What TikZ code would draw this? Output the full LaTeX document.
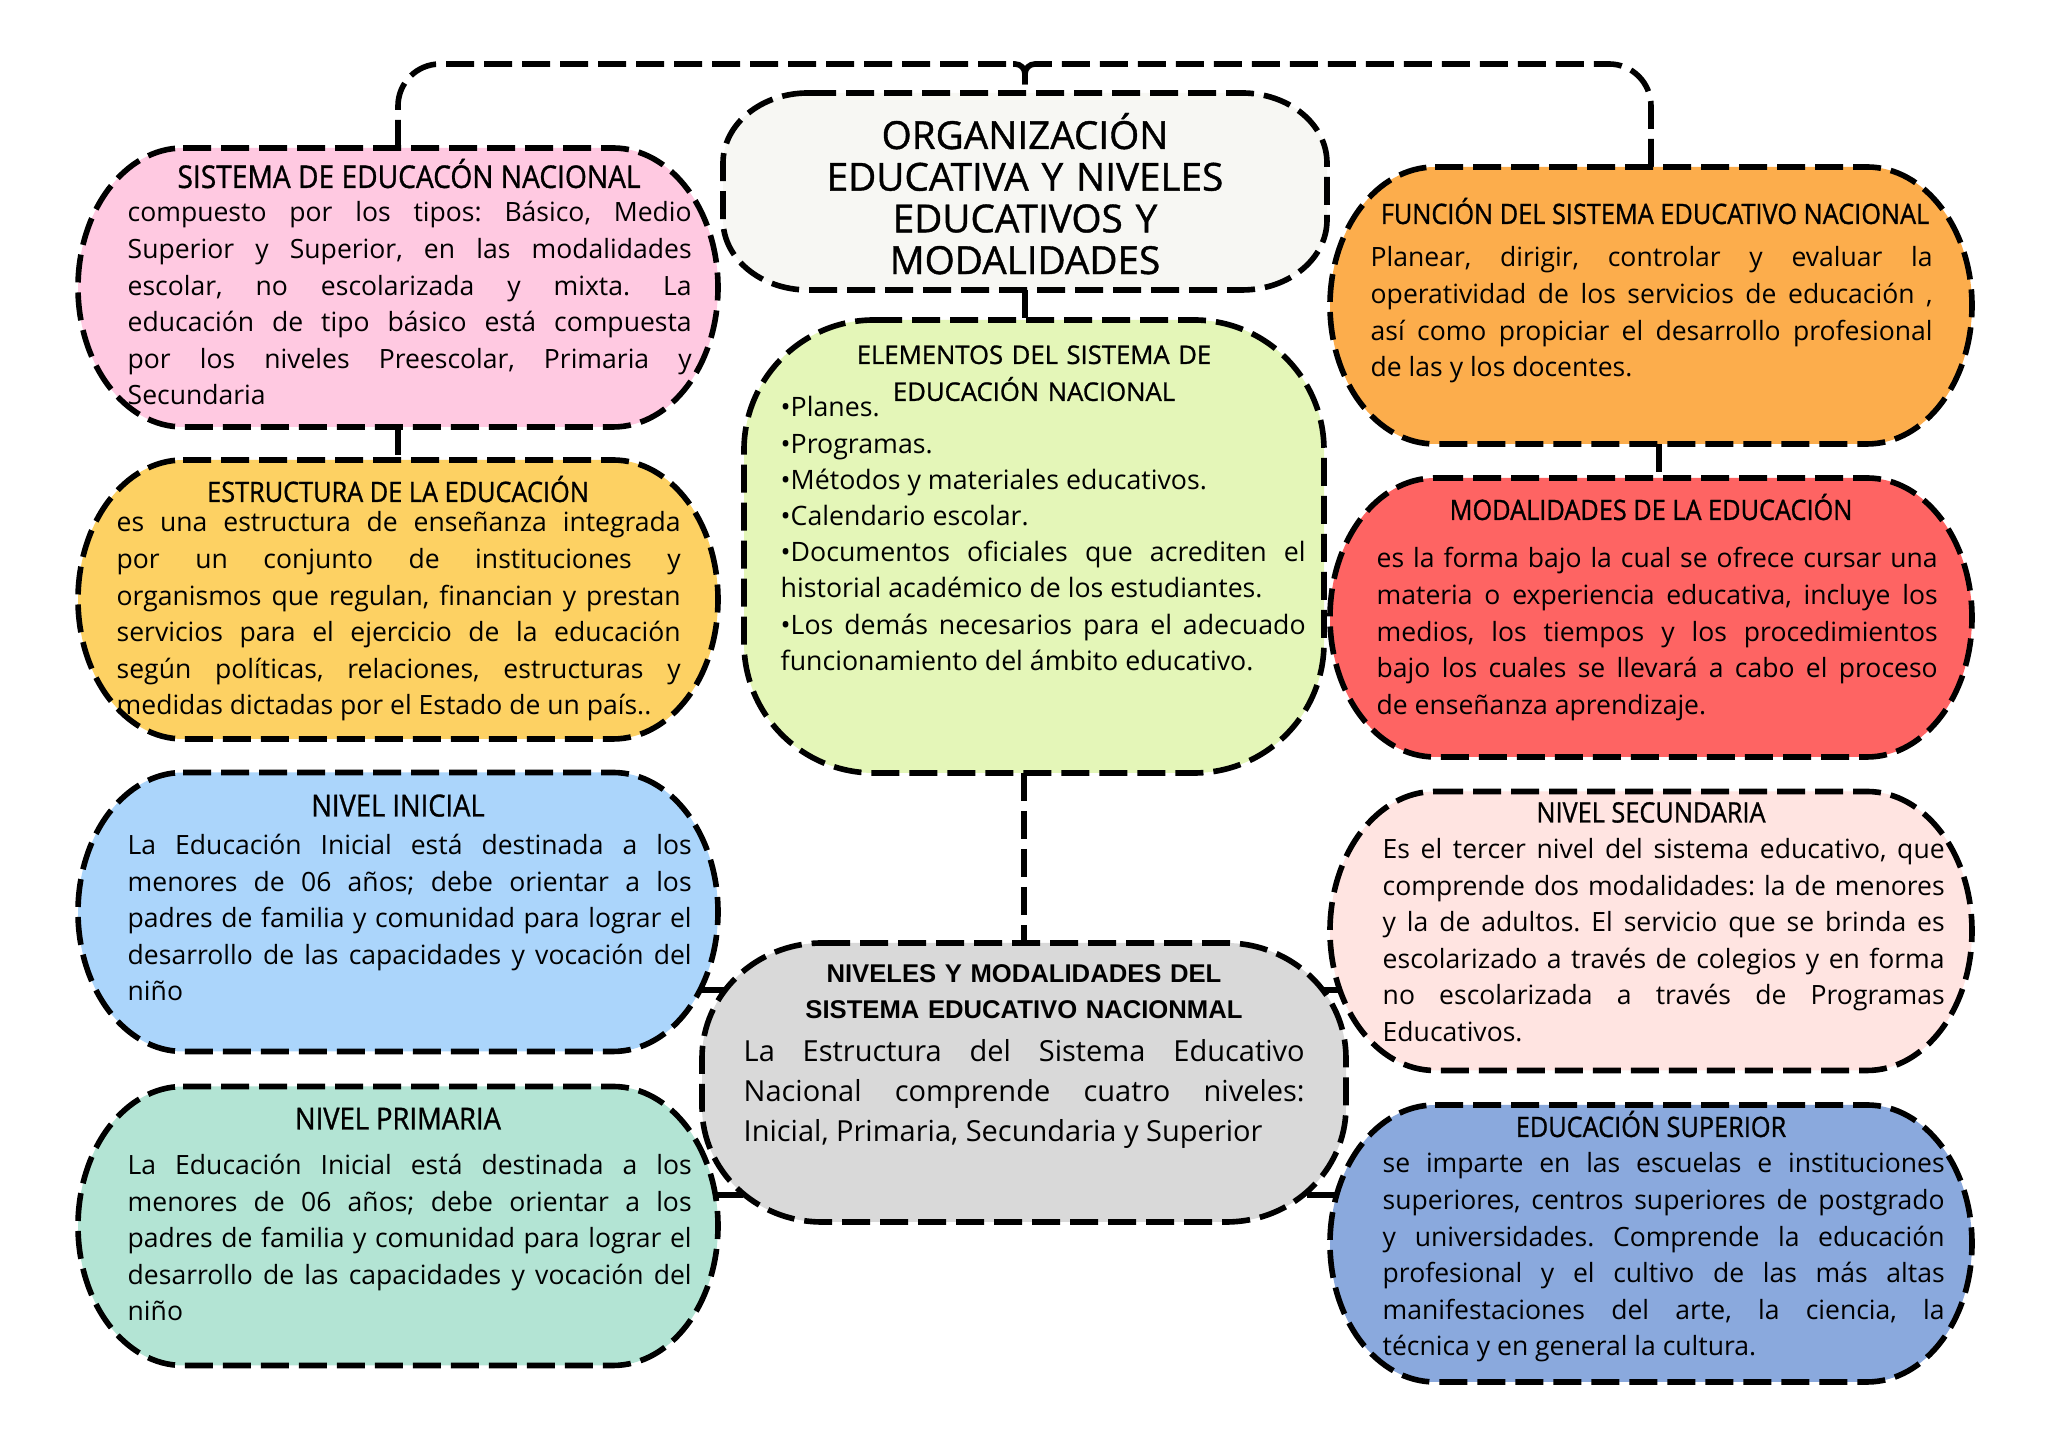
\documentclass[tikz,border=0pt]{standalone}
\usepackage{fontspec}
\setmainfont{Open Sans}
\newfontfamily\headfont[FakeStretch=0.9,FakeBold=1]{Open Sans}
\newfontfamily\titlefont[FakeBold=1]{Open Sans}
\newfontfamily\arialfont{Liberation Sans}
\usetikzlibrary{calc,backgrounds}
\frenchspacing
\tolerance=10000
\hbadness=10000
\hyphenpenalty=10000

\definecolor{titlefill}{HTML}{F7F7F3}
\definecolor{senfill}{HTML}{FFC9E1}
\definecolor{estrfill}{HTML}{FDD163}
\definecolor{inifill}{HTML}{ABD5FB}
\definecolor{prifill}{HTML}{B3E4D4}
\definecolor{elemfill}{HTML}{E4F6B8}
\definecolor{nivfill}{HTML}{D9D9D9}
\definecolor{funfill}{HTML}{FCAD4C}
\definecolor{modfill}{HTML}{FE6463}
\definecolor{secfill}{HTML}{FFE4E1}
\definecolor{supfill}{HTML}{8AA9DD}

\tikzset{
  frame/.style={inner sep=0pt, outer sep=0pt, minimum width=6.4cm, minimum height=2.79cm},
  link/.style={line width=1.6pt, dash pattern=on 0.28cm off 0.1cm},
  head/.style={inner sep=0pt, anchor=base, font=\headfont\fontsize{8}{10}\selectfont},
  body/.style={inner sep=0pt, anchor=base west, text width=5.64cm, align=justify,
    font=\fontsize{7.55}{10.41}\selectfont}
}

\newcommand{\ovalbox}[4]{%
  \path[link, draw, fill=#4] let \p1=(#1.south west), \p2=(#1.north east) in
    (\x1+#2,\y2) -- (\x2-#2,\y2)
    arc[start angle=90, end angle=0, x radius=#2, y radius=#3] -- (\x2,\y1+#3)
    arc[start angle=0, end angle=-90, x radius=#2, y radius=#3] -- (\x1+#2,\y1)
    arc[start angle=270, end angle=180, x radius=#2, y radius=#3] -- (\x1,\y2-#3)
    arc[start angle=180, end angle=90, x radius=#2, y radius=#3] -- cycle;}

\begin{document}
\begin{tikzpicture}
\useasboundingbox (0,0) rectangle (20.48,14.49);

% title
\node[frame, minimum width=6.04cm, minimum height=1.97cm] (title) at (10.25,12.575) {};
\ovalbox{title}{0.85cm}{0.7cm}{titlefill}
\node[inner sep=0pt, anchor=base, text width=6cm, align=center,
  font=\titlefont\fontsize{11}{11.86}\selectfont] (titletext) at ([yshift=-0.56cm]title.north)
  {ORGANIZACIÓN\\EDUCATIVA Y NIVELES\\EDUCATIVOS Y\\MODALIDADES};

% left column
\node[frame] (sen) at (3.98,11.615) {};
\ovalbox{sen}{1.05cm}{1.395cm}{senfill}
\node[head, font=\headfont\fontsize{8.9}{10}\selectfont] (senhead)
  at ([shift={(0.11,-0.40)}]sen.north) {SISTEMA DE EDUCACÓN NACIONAL};
\node[body] (senbody) at ([shift={(0.49,-0.74)}]sen.north west)
  {compuesto por los tipos: Básico, Medio\linebreak
   Superior y Superior, en las modalidades\linebreak
   escolar, no escolarizada y mixta. La\linebreak
   educación de tipo básico está compuesta\linebreak
   por los niveles Preescolar, Primaria y\linebreak
   Secundaria};

\node[frame] (estructura) at (3.98,8.495) {};
\ovalbox{estructura}{1.05cm}{1.395cm}{estrfill}
\node[head] (estrhead) at ([yshift=-0.42cm]estructura.north) {ESTRUCTURA DE LA EDUCACIÓN};
\node[body] (estrbody) at ([shift={(0.38,-0.72)}]estructura.north west)
  {es una estructura de enseñanza integrada\linebreak
   por un conjunto de instituciones y\linebreak
   organismos que regulan, financian y prestan\linebreak
   servicios para el ejercicio de la educación\linebreak
   según políticas, relaciones, estructuras y\linebreak
   medidas dictadas por el Estado de un país..};

\node[frame] (inicial) at (3.98,5.37) {};
\ovalbox{inicial}{1.05cm}{1.395cm}{inifill}
\node[head, font=\headfont\fontsize{8.65}{10}\selectfont] (inihead)
  at ([yshift=-0.44cm]inicial.north) {NIVEL INICIAL};
\node[body] (inibody) at ([shift={(0.49,-0.82)}]inicial.north west)
  {La Educación Inicial está destinada a los\linebreak
   menores de 06 años; debe orientar a los\linebreak
   padres de familia y comunidad para lograr el\linebreak
   desarrollo de las capacidades y vocación del\linebreak
   niño};

\node[frame] (primaria) at (3.98,2.23) {};
\ovalbox{primaria}{1.05cm}{1.395cm}{prifill}
\node[head, font=\headfont\fontsize{8.65}{10}\selectfont] (prihead)
  at ([yshift=-0.43cm]primaria.north) {NIVEL PRIMARIA};
\node[body] (pribody) at ([shift={(0.49,-0.88)}]primaria.north west)
  {La Educación Inicial está destinada a los\linebreak
   menores de 06 años; debe orientar a los\linebreak
   padres de familia y comunidad para lograr el\linebreak
   desarrollo de las capacidades y vocación del\linebreak
   niño};

% middle column
\node[frame, minimum width=5.8cm, minimum height=4.53cm] (elementos) at (10.34,9.025) {};
\ovalbox{elementos}{1.3cm}{1.3cm}{elemfill}
\node[inner sep=0pt, anchor=base, text width=5.6cm, align=center,
  font=\titlefont\fontsize{7.3}{10.5}\selectfont] (elemhead) at ([yshift=-0.44cm]elementos.north)
  {ELEMENTOS DEL SISTEMA DE\\EDUCACIÓN NACIONAL};
\node[body, text width=5.25cm, font=\fontsize{7.6}{10.3}\selectfont] (elembody)
  at ([shift={(0.36,-0.97)}]elementos.north west)
  {•Planes.\par
   •Programas.\par
   •Métodos y materiales educativos.\par
   •Calendario escolar.\par
   •Documentos oficiales que acrediten el\linebreak
   historial académico de los estudiantes.\par
   •Los demás necesarios para el adecuado\linebreak
   funcionamiento del ámbito educativo.};

\node[frame, minimum width=6.44cm] (niveles) at (10.24,3.665) {};
\ovalbox{niveles}{1.2cm}{1.15cm}{nivfill}
\node[inner sep=0pt, anchor=base, text width=6cm, align=center,
  font=\arialfont\bfseries\fontsize{7.3}{10}\selectfont] (nivhead)
  at ([yshift=-0.40cm]niveles.north)
  {NIVELES Y MODALIDADES DEL\\SISTEMA EDUCATIVO NACIONMAL};
\node[body, text width=5.61cm, font=\fontsize{8.25}{11.38}\selectfont] (nivbody)
  at ([shift={(0.41,-1.19)}]niveles.north west)
  {La Estructura del Sistema Educativo\linebreak
   Nacional comprende cuatro niveles:\linebreak
   Inicial, Primaria, Secundaria y Superior};

% right column
\node[frame, minimum width=6.42cm, minimum height=2.77cm] (funcion) at (16.51,11.435) {};
\ovalbox{funcion}{1.05cm}{1.385cm}{funfill}
\node[head] (funhead) at ([shift={(0.04,-0.57)}]funcion.north) {FUNCIÓN DEL SISTEMA EDUCATIVO NACIONAL};
\node[body, text width=5.62cm] (funbody) at ([shift={(0.40,-1.00)}]funcion.north west)
  {Planear, dirigir, controlar y evaluar la\linebreak
   operatividad de los servicios de educación ,\linebreak
   así como propiciar el desarrollo profesional\linebreak
   de las y los docentes.};

\node[frame, minimum width=6.42cm] (modalidades) at (16.51,8.315) {};
\ovalbox{modalidades}{1.05cm}{1.395cm}{modfill}
\node[head] (modhead) at ([yshift=-0.42cm]modalidades.north) {MODALIDADES DE LA EDUCACIÓN};
\node[body, text width=5.61cm] (modbody) at ([shift={(0.46,-0.90)}]modalidades.north west)
  {es la forma bajo la cual se ofrece cursar una\linebreak
   materia o experiencia educativa, incluye los\linebreak
   medios, los tiempos y los procedimientos\linebreak
   bajo los cuales se llevará a cabo el proceso\linebreak
   de enseñanza aprendizaje.};

\node[frame, minimum width=6.42cm] (secundaria) at (16.51,5.18) {};
\ovalbox{secundaria}{1.05cm}{1.395cm}{secfill}
\node[head] (sechead) at ([yshift=-0.31cm]secundaria.north) {NIVEL SECUNDARIA};
\node[body, text width=5.62cm] (secbody) at ([shift={(0.52,-0.67)}]secundaria.north west)
  {Es el tercer nivel del sistema educativo, que\linebreak
   comprende dos modalidades: la de menores\linebreak
   y la de adultos. El servicio que se brinda es\linebreak
   escolarizado a través de colegios y en forma\linebreak
   no escolarizada a través de Programas\linebreak
   Educativos.};

\node[frame, minimum width=6.42cm, minimum height=2.77cm] (superior) at (16.51,2.055) {};
\ovalbox{superior}{1.05cm}{1.385cm}{supfill}
\node[head] (suphead) at ([yshift=-0.32cm]superior.north) {EDUCACIÓN SUPERIOR};
\node[body, text width=5.62cm] (supbody) at ([shift={(0.52,-0.68)}]superior.north west)
  {se imparte en las escuelas e instituciones\linebreak
   superiores, centros superiores de postgrado\linebreak
   y universidades. Comprende la educación\linebreak
   profesional y el cultivo de las más altas\linebreak
   manifestaciones del arte, la ciencia, la\linebreak
   técnica y en general la cultura.};

% connectors
\coordinate (bracket) at ([yshift=0.29cm]title.north);
\coordinate (nivA) at ([yshift=-0.47cm]niveles.north);
\coordinate (nivB) at ([yshift=0.27cm]niveles.south);
\begin{scope}[on background layer]
  \draw[link, rounded corners=0.42cm] (sen.north) |- ([xshift=-0.12cm]bracket);
  \draw[link, rounded corners=0.42cm] (funcion.north) |- ([xshift=0.12cm]bracket);
  \draw[link, rounded corners=0.1cm] ([xshift=-0.12cm]bracket) -| (title.north);
  \draw[link, rounded corners=0.1cm] ([xshift=0.12cm]bracket) -| (title.north);
  \draw[link] (sen.south) -- (estructura.north);
  \draw[link] (title.south) -- (title.south |- elementos.north);
  \draw[link] (niveles.north |- elementos.south) -- (niveles.north);
  \draw[link] ([xshift=0.08cm]funcion.south) -- ([xshift=0.08cm]modalidades.north);
  \draw[link] (nivA -| inicial.center) -- (nivA);
  \draw[link] (nivA -| secundaria.center) -- (nivA);
  \draw[link, dash phase=0.25cm] (nivB -| primaria.center) -- (nivB);
  \draw[link, dash phase=0.26cm] (nivB -| superior.center) -- (nivB);
\end{scope}
\end{tikzpicture}
\end{document}
